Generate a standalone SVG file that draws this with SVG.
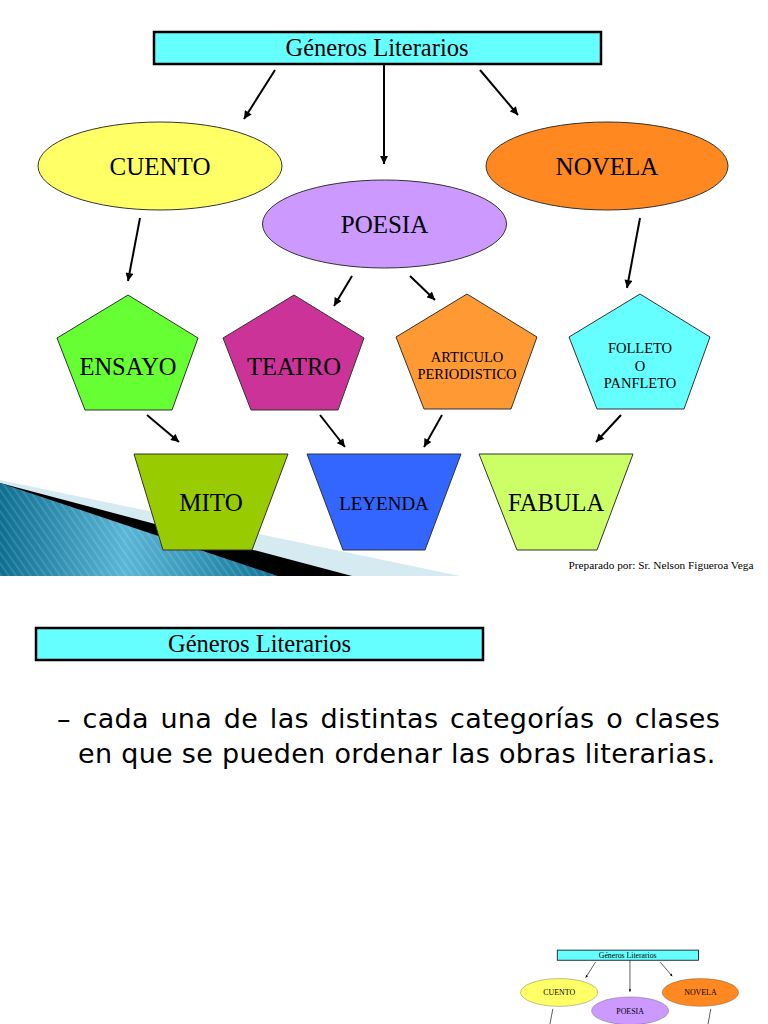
<svg xmlns="http://www.w3.org/2000/svg" xmlns:xlink="http://www.w3.org/1999/xlink" width="768" height="1024" viewBox="0 0 768 1024">
<style>
.lbl{font-family:"Liberation Serif","Times New Roman",serif;fill:#000;text-anchor:middle}
.shape{stroke:#333;stroke-width:1}
.conn{stroke:#000;stroke-width:2;fill:none;marker-end:url(#ah)}
.body{font-family:"DejaVu Sans",Verdana,sans-serif;font-size:27px;letter-spacing:0.3px;fill:#000}
</style>
<defs>
<marker id="ah" viewBox="0 0 10 10" refX="10" refY="5" markerWidth="9" markerHeight="8" markerUnits="userSpaceOnUse" orient="auto">
<path d="M0,0 L10,5 L0,10 z" fill="#000"/>
</marker>
<linearGradient id="blueg" x1="0" y1="0" x2="1" y2="0">
<stop offset="0" stop-color="#0E6E90"/>
<stop offset="0.45" stop-color="#5AB6D6"/>
<stop offset="1" stop-color="#0F7395"/>
</linearGradient>
<pattern id="stripes" width="6" height="6" patternUnits="userSpaceOnUse" patternTransform="rotate(-35)">
<rect width="2" height="6" fill="#fff" opacity="0.12"/>
</pattern>
</defs>
<rect width="768" height="1024" fill="#fff"/>

<g id="swoosh">
<polygon points="0,480 460,576 0,576" fill="#D6EAF2"/>
<polygon points="0,483 352,576 0,576" fill="#000"/>
<polygon points="0,483 278,576 0,576" fill="url(#blueg)"/>
<polygon points="0,483 278,576 0,576" fill="url(#stripes)"/>
</g>

<g id="diagram">
<g id="connectors">
<line class="conn" x1="275" y1="70" x2="244" y2="119"/>
<line class="conn" x1="384" y1="64" x2="384" y2="164"/>
<line class="conn" x1="480" y1="70" x2="518" y2="115"/>
<line class="conn" x1="140" y1="218" x2="128" y2="281"/>
<line class="conn" x1="352" y1="276" x2="334" y2="306"/>
<line class="conn" x1="410" y1="276" x2="435" y2="300"/>
<line class="conn" x1="640" y1="218" x2="627" y2="288"/>
<line class="conn" x1="147" y1="415" x2="179" y2="442"/>
<line class="conn" x1="320" y1="415" x2="345" y2="447"/>
<line class="conn" x1="442" y1="415" x2="424" y2="447"/>
<line class="conn" x1="621" y1="415" x2="596" y2="442"/>
</g>
<g id="title">
<rect x="154" y="32" width="447" height="32" fill="#66FFFF" stroke="#000" stroke-width="2.5"/>
<text class="lbl" x="377" y="56" font-size="24.5">Géneros Literarios</text>
</g>
<g id="cuento">
<ellipse class="shape" cx="160" cy="166" rx="122" ry="44" fill="#FFFF66"/>
<text class="lbl" x="160" y="175" font-size="25">CUENTO</text>
</g>
<g id="poesia">
<ellipse class="shape" cx="384.5" cy="224" rx="122" ry="44" fill="#CC99FF"/>
<text class="lbl" x="384.5" y="233" font-size="25">POESIA</text>
</g>
<g id="novela">
<ellipse class="shape" cx="607" cy="166" rx="121" ry="44" fill="#FF8820"/>
<text class="lbl" x="607" y="175" font-size="25">NOVELA</text>
</g>
</g>

<g id="ensayo">
<polygon class="shape" points="128,295 198,338 172,410 85,410 57,338" fill="#66FF33"/>
<text class="lbl" x="128" y="375" font-size="24.5">ENSAYO</text>
</g>
<g id="teatro">
<polygon class="shape" points="294,295 364,338 338,410 251,410 223,338" fill="#CC3399"/>
<text class="lbl" x="294" y="375" font-size="24.5">TEATRO</text>
</g>
<g id="articulo">
<polygon class="shape" points="467,294 537,337 511,409 424,409 396,337" fill="#FF9933"/>
<text class="lbl" x="467" y="362" font-size="14.5">ARTICULO</text>
<text class="lbl" x="467" y="379" font-size="14.5">PERIODISTICO</text>
</g>
<g id="folleto">
<polygon class="shape" points="640,294 710,337 684,409 597,409 569,337" fill="#66FFFF"/>
<text class="lbl" x="640" y="353" font-size="14.5">FOLLETO</text>
<text class="lbl" x="640" y="371" font-size="14.5">O</text>
<text class="lbl" x="640" y="388" font-size="14.5">PANFLETO</text>
</g>
<g id="mito">
<polygon class="shape" points="134,454 288,454 252,550 163,550" fill="#99CC00"/>
<text class="lbl" x="211" y="511" font-size="25">MITO</text>
</g>
<g id="leyenda">
<polygon class="shape" points="307,454 461,454 425,550 343,550" fill="#3366FF"/>
<text class="lbl" x="384" y="510" font-size="19">LEYENDA</text>
</g>
<g id="fabula">
<polygon class="shape" points="479,454 633,454 597,550 517,550" fill="#CCFF66"/>
<text class="lbl" x="556" y="511" font-size="24.5">FABULA</text>
</g>

<text x="661" y="569" font-family="Liberation Serif, serif" font-size="11.3" text-anchor="middle" fill="#000">Preparado por: Sr. Nelson Figueroa Vega</text>

<g id="slide2-title">
<rect x="36" y="628" width="447" height="32" fill="#66FFFF" stroke="#000" stroke-width="2.5"/>
<text class="lbl" x="259.5" y="652" font-size="24.5">Géneros Literarios</text>
</g>
<g id="definition">
<text class="body" x="57" y="728" word-spacing="2.8">– cada una de las distintas categorías o clases</text>
<text class="body" x="78" y="763">en que se pueden ordenar las obras literarias.</text>
</g>

<g id="thumbnail">
<use xlink:href="#diagram" href="#diagram" transform="translate(508.6,940) scale(0.316)"/>
</g>
</svg>
